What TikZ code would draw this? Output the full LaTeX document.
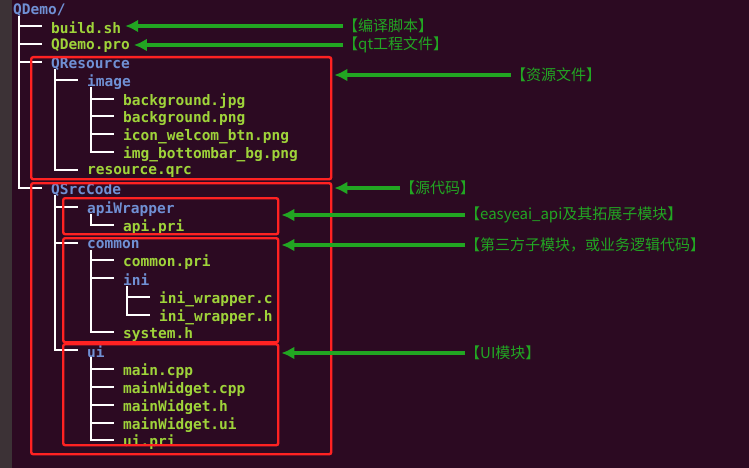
\documentclass[tikz,border=0pt]{standalone}
\usepackage{fontspec}
\setmonofont{DejaVu Sans Mono}
\newfontfamily\cjk{Noto Sans CJK SC}
\usetikzlibrary{arrows.meta}
\definecolor{bgc}{HTML}{2C0A22}
\definecolor{strip}{HTML}{3C3236}
\definecolor{filec}{HTML}{9FD43A}
\definecolor{dirc}{HTML}{7090D4}
\definecolor{redb}{HTML}{FF2222}
\definecolor{grn}{HTML}{22A622}
\tikzset{
 x=1pt,y=-1pt,
 f/.style={anchor=west,inner sep=0pt,yshift=-2pt,text=filec,font=\ttfamily\bfseries\fontsize{14.5pt}{14.5pt}\selectfont},
 d/.style={f,text=dirc},
 tl/.style={white,line width=1.2pt},
 rbox/.style={draw=redb,line width=2.4pt,rounded corners=2pt},
 lab/.style={anchor=west,inner sep=0pt,text=grn,font=\cjk\fontsize{15pt}{15pt}\selectfont},
 arr/.style={draw=grn,line width=3.2pt,-{Latex[length=13pt,width=13pt]}},
}
\begin{document}
\begin{tikzpicture}
\fill[bgc] (0,0) rectangle (749,468);
\useasboundingbox (0,0) rectangle (749,468);
\fill[strip] (0,0) rectangle (12,468);
\node[d] (root) at (13,8) {QDemo/};
\node[f] (build) at (51,26) {build.sh};
\node[f] (pro) at (51,44) {QDemo.pro};
\node[d] (res) at (51,62) {QResource};
\node[d] (img) at (87,80) {image};
\node[f] (b1) at (123,99) {background.jpg};
\node[f] (b2) at (123,116) {background.png};
\node[f] (b3) at (123,134) {icon\_welcom\_btn.png};
\node[f] (b4) at (123,152) {img\_bottombar\_bg.png};
\node[f] (qrc) at (87,170) {resource.qrc};
\node[d] (src) at (51,188) {QSrcCode};
\node[d] (api) at (87,207) {apiWrapper};
\node[f] (apip) at (123,225) {api.pri};
\node[d] (com) at (87,243) {common};
\node[f] (comp) at (123,260) {common.pri};
\node[d] (ini) at (123,278) {ini};
\node[f] (inic) at (159,297) {ini\_wrapper.c};
\node[f] (inih) at (159,315) {ini\_wrapper.h};
\node[f] (sys) at (123,332) {system.h};
\node[d] (ui) at (87,350) {ui};
\node[f] (m1) at (123,369) {main.cpp};
\node[f] (m2) at (123,387) {mainWidget.cpp};
\node[f] (m3) at (123,405) {mainWidget.h};
\node[f] (m4) at (123,423) {mainWidget.ui};
\node[f] (m5) at (123,440) {ui.pri};
% tree lines
\draw[tl] (19,16) -- (19,188) -- (42,188);
\foreach \y in {26,44,62} \draw[tl] (19,\y) -- (42,\y);
\draw[tl] (55,69) -- (55,170) -- (78,170);
\draw[tl] (55,80) -- (78,80);
\draw[tl] (91,87) -- (91,152) -- (114,152);
\foreach \y in {99,116,134} \draw[tl] (91,\y) -- (114,\y);
\draw[tl] (55,195) -- (55,350) -- (78,350);
\foreach \y in {207,243} \draw[tl] (55,\y) -- (78,\y);
\draw[tl] (91,214) -- (91,225) -- (114,225);
\draw[tl] (91,250) -- (91,332) -- (114,332);
\foreach \y in {260,278} \draw[tl] (91,\y) -- (114,\y);
\draw[tl] (127,286) -- (127,315) -- (150,315);
\draw[tl] (127,297) -- (150,297);
\draw[tl] (91,357) -- (91,440) -- (114,440);
\foreach \y in {369,387,405,423} \draw[tl] (91,\y) -- (114,\y);
% boxes
\node[rbox,inner sep=0pt,minimum width=300pt,minimum height=122pt,anchor=north west] (bres) at (30,56) {};
\node[rbox,inner sep=0pt,minimum width=300pt,minimum height=271pt,anchor=north west] (bsrc) at (30,182) {};
\node[rbox,inner sep=0pt,minimum width=215pt,minimum height=36pt,anchor=north west] (bapi) at (62,197) {};
\node[rbox,inner sep=0pt,minimum width=215pt,minimum height=104pt,anchor=north west] (bcom) at (62,237) {};
\node[rbox,inner sep=0pt,minimum width=215pt,minimum height=101pt,anchor=north west] (bui) at (62,343) {};
% labels
\node[lab] (l1) at (343,26) {【编译脚本】};
\node[lab] (l2) at (343,45) {【qt工程文件】};
\node[lab] (l3) at (511,75) {【资源文件】};
\node[lab] (l4) at (400,188) {【源代码】};
\node[lab] (l5) at (465,215) {【easyeai\_api及其拓展子模块】};
\node[lab] (l6) at (465,245) {【第三方子模块，或业务逻辑代码】};
\node[lab] (l7) at (465,353) {【UI模块】};
% arrows
\draw[arr] (l1.west) -- ([xshift=4pt]build.east |- l1.west);
\draw[arr] (l2.west) -- ([xshift=4pt]pro.east |- l2.west);
\draw[arr] (l3.west) -- ([xshift=2pt]bres.east |- l3.west);
\draw[arr] (l4.west) -- ([xshift=2pt]bres.east |- l4.west);
\draw[arr] (l5.west) -- ([xshift=2pt]bapi.east |- l5.west);
\draw[arr] (l6.west) -- ([xshift=2pt]bapi.east |- l6.west);
\draw[arr] (l7.west) -- ([xshift=2pt]bapi.east |- l7.west);
\end{tikzpicture}
\end{document}
